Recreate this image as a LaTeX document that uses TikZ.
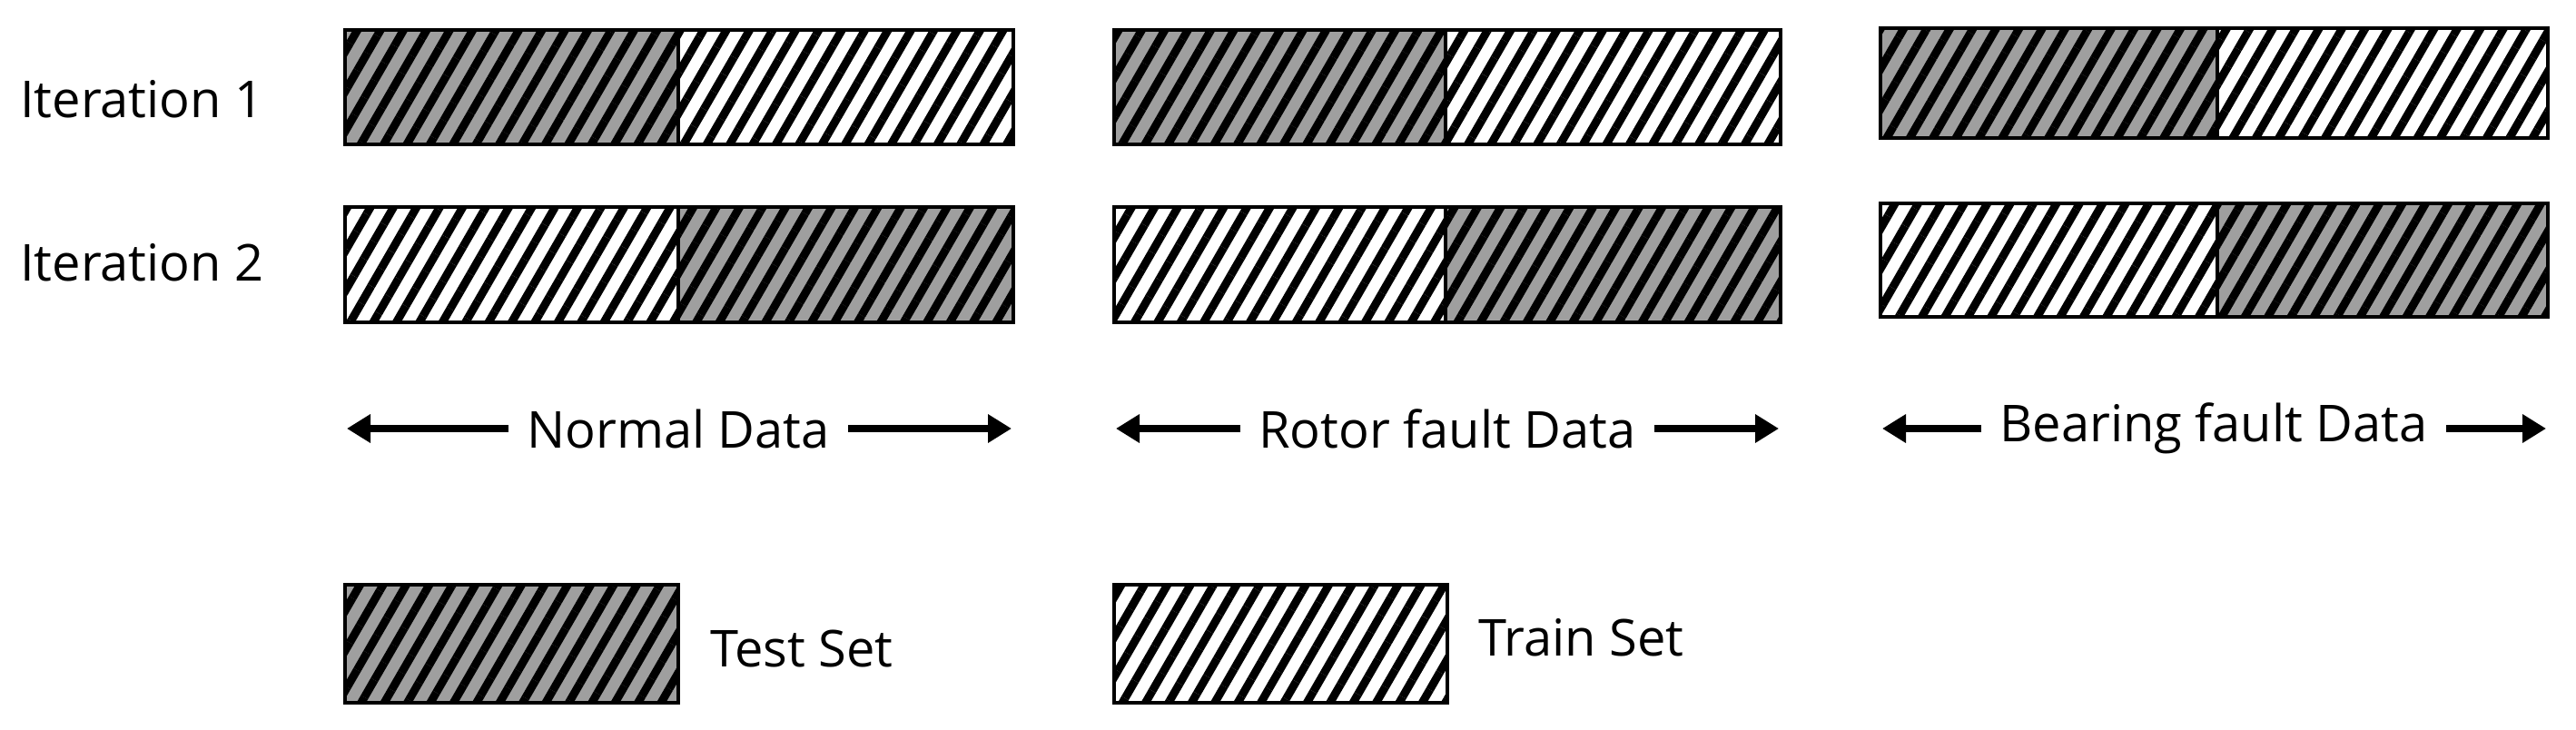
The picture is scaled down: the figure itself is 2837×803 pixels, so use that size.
\documentclass[tikz,border=0pt]{standalone}
\usepackage{fontspec}
\setmainfont{Open Sans}
\usetikzlibrary{patterns.meta,arrows.meta}
\begin{document}
\begin{tikzpicture}[x=1pt,y=-1pt,
  stripes/.style={pattern={Lines[angle=60,distance=22pt,line width=9pt]},pattern color=black},
  testbox/.style={draw=black,line width=3.5pt,fill=gray!75,postaction={stripes,draw=black,line width=3.5pt}},
  trainbox/.style={draw=black,line width=3.5pt,fill=white,postaction={stripes,draw=black,line width=3.5pt}},
  lbl/.style={font=\fontsize{56}{66}\selectfont,inner sep=0pt},
  arr/.style={line width=8pt,-{Triangle[length=26pt,width=30pt]}}]
\useasboundingbox (0,0) rectangle (2837,803);
\node[lbl,anchor=west] (it1) at (22,109) {Iteration 1};
\node[lbl,anchor=west] (it2) at (22,289) {Iteration 2};
% group 1
\draw[testbox] (380,33) rectangle (747,159);
\draw[trainbox] (747,33) rectangle (1116,159);
\draw[trainbox] (380,228) rectangle (747,355);
\draw[testbox] (747,228) rectangle (1116,355);
% group 2
\draw[testbox] (1227,33) rectangle (1592,159);
\draw[trainbox] (1592,33) rectangle (1961,159);
\draw[trainbox] (1227,228) rectangle (1592,355);
\draw[testbox] (1592,228) rectangle (1961,355);
% group 3
\draw[testbox] (2071,31) rectangle (2442,152);
\draw[trainbox] (2442,31) rectangle (2806,152);
\draw[trainbox] (2071,224) rectangle (2442,349);
\draw[testbox] (2442,224) rectangle (2806,349);
% labels with arrows
\node[lbl] (g1) at (747,472) {Normal Data};
\coordinate (g1l) at (382,472); \coordinate (g1r) at (1114,472);
\draw[arr] (g1.west) ++(-20,0) -- (g1l);
\draw[arr] (g1.east) ++(20,0) -- (g1r);
\node[lbl] (g2) at (1594,472) {Rotor fault Data};
\coordinate (g2l) at (1229,472); \coordinate (g2r) at (1959,472);
\draw[arr] (g2.west) ++(-20,0) -- (g2l);
\draw[arr] (g2.east) ++(20,0) -- (g2r);
\node[lbl] (g3) at (2438,472) {Bearing fault Data};
\coordinate (g3l) at (2073,472); \coordinate (g3r) at (2804,472);
\draw[arr] (g3.west) ++(-20,0) -- (g3l);
\draw[arr] (g3.east) ++(20,0) -- (g3r);
% legend
\draw[testbox,draw=black!70!blue] (380,644) rectangle (747,774);
\node[lbl,anchor=west] (ts) at (782,714) {Test Set};
\draw[trainbox] (1227,644) rectangle (1594,774);
\node[lbl,anchor=west] (tr) at (1628,702) {Train Set};
\end{tikzpicture}
\end{document}
